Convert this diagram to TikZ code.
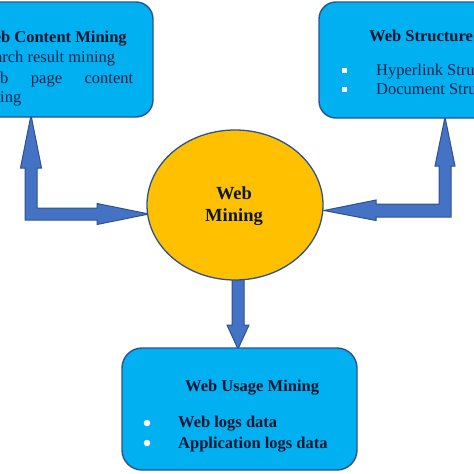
\documentclass[tikz,border=0pt]{standalone}
\usepackage{fontspec}
\setmainfont{Liberation Serif}
\usetikzlibrary{shapes.geometric}
\definecolor{boxfill}{RGB}{0,176,240}
\definecolor{boxline}{RGB}{47,82,143}
\definecolor{arrfill}{RGB}{68,114,196}
\definecolor{arrline}{RGB}{47,82,143}
\definecolor{ellfill}{RGB}{255,192,0}
\definecolor{txtdark}{RGB}{12,22,48}
\definecolor{txtblue}{RGB}{22,38,78}
\tikzset{
  panel/.style={draw=boxline, fill=boxfill, line width=1.4pt, rounded corners=17pt, rectangle, inner sep=0pt},
  blockarrow/.style={draw=arrline, fill=arrfill, line width=1pt, line join=miter},
  ttl/.style={anchor=base west, inner sep=0pt, text=txtdark, font=\fontsize{16.5}{19}\selectfont\bfseries},
  itm/.style={anchor=base west, inner sep=0pt, text=txtblue, font=\fontsize{16.5}{19}\selectfont},
  itmb/.style={anchor=base west, inner sep=0pt, text=txtdark, font=\fontsize{16.5}{19}\selectfont\bfseries},
  sqbullet/.style={fill=white, draw=none, minimum size=5pt, inner sep=0pt, rectangle},
  rdbullet/.style={fill=white, draw=none, minimum size=6.5pt, inner sep=0pt, circle},
  ctext/.style={anchor=base, inner sep=0pt, text=txtdark, font=\fontsize{18.5}{21}\selectfont\bfseries},
}
\begin{document}
\begin{tikzpicture}[x=1pt,y=-1pt]
\useasboundingbox (0,0) rectangle (474,474);
\clip (0,0) rectangle (474,474);
\fill[white] (0,0) rectangle (474,474);

% connector tips
\coordinate (lup) at (31,115);
\coordinate (lrt) at (149,214);
\coordinate (rup) at (445,117);
\coordinate (rlt) at (324,210.5);
\coordinate (bst) at (238,272);
\coordinate (bdn) at (238,349);

% block arrows (drawn first so the ellipse covers the start of the lower one)
\draw[blockarrow] (lup) -- ++(10.5,53) -- ++(-4.5,0) -- ++(0,40) -- ++(60,0) -- ++(0,-4.5)
  -- (lrt) -- ++(-52,10.5) -- ++(0,-4.5) -- ++(-72,0) -- ++(0,-52) -- ++(-4.5,0) -- cycle;
\draw[blockarrow] (rup) -- ++(10,49) -- ++(-4,0) -- ++(0,51) -- ++(-75,0) -- ++(0,3.5)
  -- (rlt) -- ++(52,-10.5) -- ++(0,4) -- ++(63,0) -- ++(0,-38) -- ++(-4,0) -- cycle;
\draw[blockarrow] (bdn) -- ++(11,-24) -- ++(-5,0) -- ++(0,-53) -- ++(-12,0)
  -- ++(0,53) -- ++(-5,0) -- cycle;

% central ellipse
\node[draw=boxline, fill=ellfill, line width=1.3pt, ellipse, minimum width=176pt,
  minimum height=150pt, inner sep=0pt] (wm) at (235,205) {};
\node[ctext] (wmA) at (234,199) {Web};
\node[ctext] (wmB) at (234,221) {Mining};

% left box
\node[panel, minimum width=213pt, minimum height=115pt] (lbox) at (46.5,59.5) {};
\node[ttl] (lt) at (-22,42) {Web Content Mining};
\node[itm] (l1) at (-21.6,62) {Search result mining};
\node[itm] (l2) at (-21.6,83) {\hbox to 154.6pt{Web\hfill page\hfill content}};
\node[itm] (l3) at (-25.7,102) {mining};

% right box
\node[panel, minimum width=241pt, minimum height=116pt] (rbox) at (439.5,60) {};
\node[ttl] (rt) at (369,41) {Web Structure Mining};
\node[sqbullet] (rb1) at (344,70) {};
\node[sqbullet] (rb2) at (344,89) {};
\node[itm] (r1) at (376,75) {Hyperlink Structure};
\node[itm] (r2) at (376,94.5) {Document Structure};

% bottom box
\node[panel, rounded corners=20pt, minimum width=235pt, minimum height=122pt] (bbox) at (239.5,409) {};
\node[ttl] (bt) at (185,391) {Web Usage Mining};
\node[rdbullet] (bb1) at (147,423) {};
\node[rdbullet] (bb2) at (147,443) {};
\node[itmb] (b1) at (178,427) {Web logs data};
\node[itmb] (b2) at (178,448) {Application logs data};
\end{tikzpicture}
\end{document}
